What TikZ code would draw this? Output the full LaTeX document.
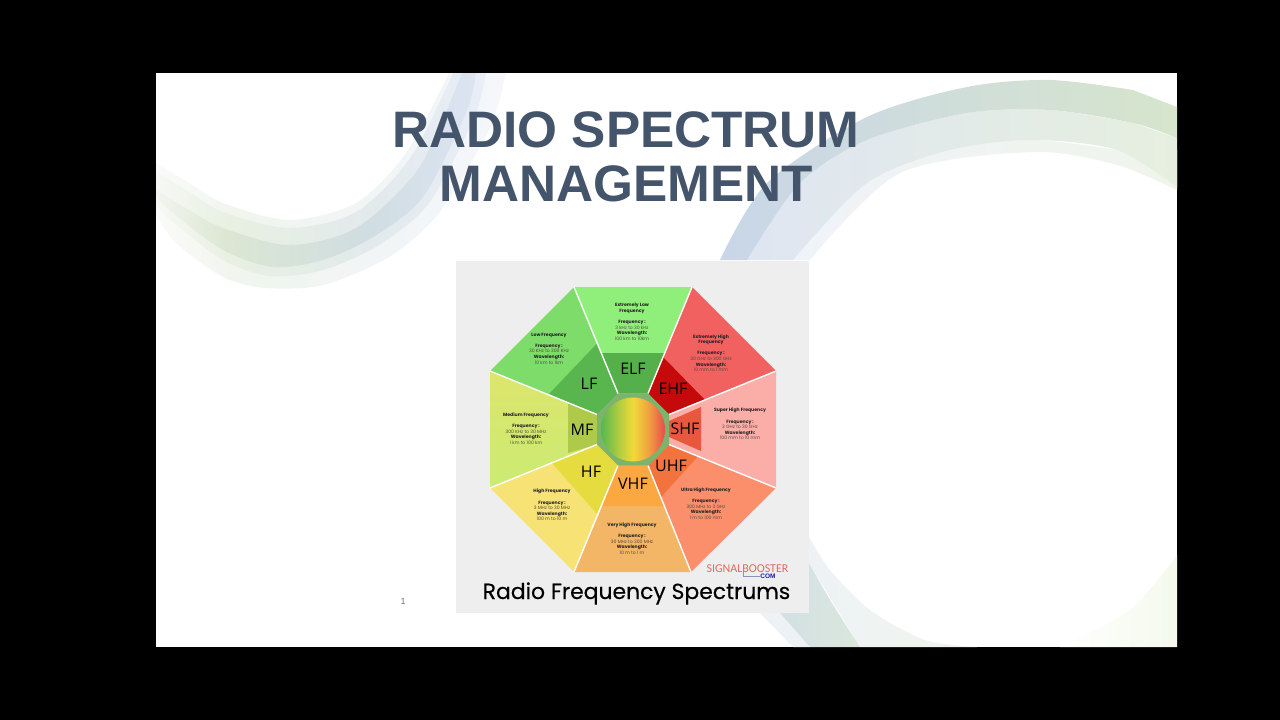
\documentclass[tikz,border=0pt]{standalone}
\usepackage{fontspec}
\usepackage{xcolor}
\setmainfont{Liberation Sans}
\newfontfamily\popfont{Poppins}
\newfontfamily\capfont[FakeBold=0.3]{Poppins}
\newfontfamily\bandfont{Open Sans}
\newfontfamily\logofont{Carlito}
\definecolor{titlecol}{HTML}{44546A}
\definecolor{imgbg}{HTML}{EEEEEF}
\definecolor{elfcol}{HTML}{90EE7B}
\definecolor{elfdark}{HTML}{55B04B}
\definecolor{lfcol}{HTML}{7EDD6A}
\definecolor{lfdark}{HTML}{59B54D}
\definecolor{mftop}{HTML}{DDE56C}
\definecolor{mfbot}{HTML}{CBEB72}
\definecolor{mfdark}{HTML}{AFC94A}
\definecolor{hfcol}{HTML}{F6E275}
\definecolor{hfdark}{HTML}{E5DC3F}
\definecolor{vhfcol}{HTML}{F3B566}
\definecolor{vhfdark}{HTML}{FBA843}
\definecolor{uhfcol}{HTML}{FB8E6B}
\definecolor{uhfdark}{HTML}{F2733D}
\definecolor{shfcol}{HTML}{FBAEA8}
\definecolor{shfdark}{HTML}{E9573F}
\definecolor{ehfcol}{HTML}{F0615F}
\definecolor{ehfdark}{HTML}{C40A0A}
\definecolor{hubcol}{HTML}{7DB36C}
\definecolor{logored}{HTML}{E06A62}
\definecolor{logoblue}{HTML}{1A1AA0}
\definecolor{logoline}{HTML}{8A94B8}
\definecolor{headtxt}{HTML}{222222}
\definecolor{valtxt}{HTML}{5A4A40}
\definecolor{hgreen}{HTML}{55B94E}
\definecolor{hlime}{HTML}{A5C943}
\definecolor{hyellow}{HTML}{F0DA38}
\definecolor{horange}{HTML}{F0A240}
\definecolor{hred}{HTML}{E84C4C}
\pgfdeclarehorizontalshading{hubshading}{100bp}{color(0bp)=(hgreen); color(25bp)=(hgreen); color(37bp)=(hlime); color(50bp)=(hyellow); color(62bp)=(horange); color(75bp)=(hred); color(100bp)=(hred)}
\definecolor{sgA}{HTML}{FAFBF9}
\definecolor{sgB}{HTML}{F1F5EE}
\definecolor{sgC}{HTML}{F2F5F6}
\definecolor{sgD}{HTML}{F5F7FB}
\definecolor{smA}{HTML}{F6F8F4}
\definecolor{smB}{HTML}{E8F0E2}
\definecolor{smC}{HTML}{E2EAEC}
\definecolor{smD}{HTML}{E9EEF7}
\definecolor{sdA}{HTML}{F2F5EF}
\definecolor{sdB}{HTML}{DBE7D2}
\definecolor{sdC}{HTML}{D0DDE2}
\definecolor{sdD}{HTML}{DCE4F2}
\pgfdeclarehorizontalshading{swfaint}{100bp}{color(0bp)=(sgA); color(25bp)=(sgA); color(36bp)=(sgB); color(58bp)=(sgC); color(75bp)=(sgD); color(100bp)=(sgD)}
\pgfdeclarehorizontalshading{swmid}{100bp}{color(0bp)=(smA); color(25bp)=(smA); color(36bp)=(smB); color(58bp)=(smC); color(75bp)=(smD); color(100bp)=(smD)}
\pgfdeclarehorizontalshading{swdark}{100bp}{color(0bp)=(sdA); color(25bp)=(sdA); color(36bp)=(sdB); color(58bp)=(sdC); color(75bp)=(sdD); color(100bp)=(sdD)}
\definecolor{adL}{HTML}{C9D6E8}
\definecolor{adM}{HTML}{CEDFDF}
\definecolor{adR}{HTML}{D6E5CC}
\definecolor{alL}{HTML}{DFE6F2}
\definecolor{alM}{HTML}{E3EBEC}
\definecolor{alR}{HTML}{E6EFDF}
\definecolor{afL}{HTML}{F0F3F8}
\definecolor{afR}{HTML}{F0F4EC}
\definecolor{bdL}{HTML}{D3E0E4}
\definecolor{bdR}{HTML}{DAE7DC}
\definecolor{blL}{HTML}{EEF2F5}
\definecolor{blR}{HTML}{F0F5EE}
\definecolor{cgR}{HTML}{F4F9EC}
\tikzset{
  bandlbl/.style={font=\bandfont\fontsize{16}{16}\selectfont, text=black, inner sep=0pt},
  bandtxt/.style={font=\popfont\fontsize{4.6}{5.6}\selectfont, align=center, inner sep=0pt},
  sepline/.style={draw=white, line width=1.4pt},
  titlelbl/.style={anchor=base, font=\bfseries\fontsize{51.3}{51.3}\selectfont, text=titlecol, inner sep=0pt},
}
\newcommand{\bandinfo}[3]{\textcolor{headtxt}{\textbf{#1}}\\[5.6pt]\textcolor{headtxt}{\textbf{Frequency :}}\\\textcolor{valtxt}{#2}\\\textcolor{headtxt}{\textbf{Wavelength:}}\\\textcolor{valtxt}{#3}}
\begin{document}
\begin{tikzpicture}[x=1pt,y=-1pt]
  \useasboundingbox (0,0) rectangle (1280,720);
  \fill[black] (0,0) rectangle (1280,720);
  \fill[white] (156,73) rectangle (1177,647);

  \begin{scope}
    \clip (156,73) rectangle (1177,647);
    \shade[shading=swfaint] plot[smooth] coordinates {(156,163) (189,183) (223,203) (289,220) (356,203) (406,153) (449,73)}
      -- plot[smooth] coordinates {(506,73) (489,130) (439,213) (389,257) (323,285) (266,288) (223,277) (176,243) (156,215)} -- cycle;
    \shade[shading=swmid] plot[smooth] coordinates {(156,172) (189,192) (223,212) (289,228) (356,212) (411,157) (453,73)}
      -- plot[smooth] coordinates {(486,73) (474,118) (429,203) (379,245) (323,270) (270,276) (223,260) (173,222) (156,205)} -- cycle;
    \shade[shading=swdark] plot[smooth] coordinates {(156,190) (189,210) (223,228) (289,245) (356,228) (419,168) (462,73)}
      -- plot[smooth] coordinates {(476,73) (466,113) (423,197) (373,237) (323,260) (273,267) (223,250) (173,213) (156,196)} -- cycle;

    \shade[left color=afL, right color=afR] plot[smooth] coordinates {(810,260) (900,173) (1033,152) (1117,165) (1177,190)}
      -- (1177,150) -- plot[smooth] coordinates {(1117,150) (1033,140) (950,150) (867,183) (793,260)} -- cycle;
    \shade[left color=alL, middle color=alM, right color=alR] plot[smooth] coordinates {(793,260) (867,183) (950,150) (1033,140) (1117,150) (1177,187)}
      -- (1177,138) -- plot[smooth] coordinates {(1133,123) (1050,110) (967,113) (867,140) (800,183) (747,260)} -- cycle;
    \shade[left color=adL, middle color=adM, right color=adR] plot[smooth] coordinates {(747,260) (800,183) (867,140) (967,113) (1050,110) (1133,123) (1177,138)}
      -- (1177,107) -- plot[smooth] coordinates {(1133,90) (1050,80) (967,87) (867,117) (767,183) (720,260)} -- cycle;

    \fill[blL] (760,613) -- (793,647) -- (810,647) -- (780,613) -- cycle;
    \shade[left color=blL, right color=blR] plot[smooth] coordinates {(809,537) (830,570) (870,610) (925,640) (977,647)}
      -- (860,647) -- (809,563) -- cycle;
    \shade[left color=bdL, right color=bdR] plot[smooth] coordinates {(809,563) (830,600) (860,647)}
      -- (810,647) -- (795,630) -- (780,613) -- (809,613) -- cycle;
    \shade[left color=white, right color=cgR] plot[smooth] coordinates {(1177,555) (1130,610) (1060,647)}
      -- (1177,647) -- cycle;
  \end{scope}

  \node[titlelbl] at (626,147) (title_a) {RADIO SPECTRUM};
  \node[titlelbl] at (626,201) (title_b) {MANAGEMENT};
  \node[font=\fontsize{9}{9}\selectfont, text=black!55, inner sep=0pt] at (403,601) (page_no) {1};

  \fill[imgbg] (456,261) rectangle (809,613);

  \coordinate (o1) at (574,287);
  \coordinate (o2) at (692,287);
  \coordinate (o3) at (776,371);
  \coordinate (o4) at (776,488);
  \coordinate (o5) at (691,572);
  \coordinate (o6) at (574,572);
  \coordinate (o7) at (490,488);
  \coordinate (o8) at (490,371);
  \coordinate (i1) at (618,393.5);
  \coordinate (i2) at (648,393.5);
  \coordinate (i3) at (669,414.5);
  \coordinate (i4) at (669,444.5);
  \coordinate (i5) at (648,465.5);
  \coordinate (i6) at (618,465.5);
  \coordinate (i7) at (597,444.5);
  \coordinate (i8) at (597,414.5);

  \fill[elfcol] (o1) -- (o2) -- (i2) -- (i1) -- cycle;
  \fill[ehfcol] (o2) -- (o3) -- (i3) -- (i2) -- cycle;
  \fill[shfcol] (o3) -- (o4) -- (i4) -- (i3) -- cycle;
  \fill[uhfcol] (o4) -- (o5) -- (i5) -- (i4) -- cycle;
  \fill[vhfcol] (o5) -- (o6) -- (i6) -- (i5) -- cycle;
  \fill[hfcol] (o6) -- (o7) -- (i7) -- (i6) -- cycle;
  \shade[top color=mftop, bottom color=mfbot] (o7) -- (o8) -- (i8) -- (i7) -- cycle;
  \fill[lfcol] (o8) -- (o1) -- (i1) -- (i8) -- cycle;

  \fill[elfdark] (601.3,353) -- (664.7,353) -- (i2) -- (i1) -- cycle;
  \fill[ehfdark] (663,357) -- (705,400) -- (i3) -- (i2) -- cycle;
  \fill[shfdark] (669,421) -- (701,407) -- (701,451) -- (669,437) -- cycle;
  \fill[uhfdark] (698,456.3) -- (661,497) -- (i5) -- (i4) -- cycle;
  \fill[vhfdark] (665,506) -- (601,506) -- (i6) -- (i5) -- cycle;
  \fill[hfdark] (597,514) -- (552,463) -- (i7) -- (i6) -- cycle;
  \fill[mfdark] (568,403) -- (i8) -- (i7) -- (568,453) -- cycle;
  \fill[lfdark] (549,394) -- (597.5,343) -- (i1) -- (i8) -- cycle;

  \draw[sepline] (o1) -- (i1);
  \draw[sepline] (o2) -- (i2);
  \draw[sepline] (o3) -- (i3);
  \draw[sepline] (o4) -- (i4);
  \draw[sepline] (o5) -- (i5);
  \draw[sepline] (o6) -- (i6);
  \draw[sepline] (o7) -- (i7);
  \draw[sepline] (o8) -- (i8);

  \fill[hubcol] (i1) -- (i2) -- (i3) -- (i4) -- (i5) -- (i6) -- (i7) -- (i8) -- cycle;
  \shade[shading=hubshading] (633,429.5) circle (32);

  \node[bandlbl] at (633,369) (elf_lbl) {ELF};
  \node[bandlbl] at (589,384) (lf_lbl) {LF};
  \node[bandlbl] at (582,430) (mf_lbl) {MF};
  \node[bandlbl] at (591,472) (hf_lbl) {HF};
  \node[bandlbl] at (633,484) (vhf_lbl) {VHF};
  \node[bandlbl] at (671,466) (uhf_lbl) {UHF};
  \node[bandlbl] at (685,429) (shf_lbl) {SHF};
  \node[bandlbl] at (673,389) (ehf_lbl) {EHF};

  \node[bandtxt] at (632,322) (elf_txt) {\textcolor{headtxt}{\textbf{Extremely Low}}\\\bandinfo{Frequency}{3 kHz to 30 kHz}{100 km to 10km}};
  \node[bandtxt] at (549,348.5) (lf_txt) {\bandinfo{Low Frequency}{30 KHz to 300 KHz}{10 km to 1km}};
  \node[bandtxt] at (526,428.5) (mf_txt) {\bandinfo{Medium Frequency}{300 KHz to 30 MHz}{1 km to 100 km}};
  \node[bandtxt] at (552,505) (hf_txt) {\bandinfo{High Frequency}{3 MHz to 30 MHz}{100 m to 10 m}};
  \node[bandtxt] at (632,538.5) (vhf_txt) {\bandinfo{Very High Frequency}{30 MHz to 300 MHz}{10 m to 1 m}};
  \node[bandtxt] at (706,503.5) (uhf_txt) {\bandinfo{Ultra High Frequency}{300 MHz to 3 GHz}{1 m to 100 mm}};
  \node[bandtxt] at (740,424) (shf_txt) {\bandinfo{Super High Frequency}{3 GHz to 30 GHz}{100 mm to 10 mm}};
  \node[bandtxt] at (711,353) (ehf_txt) {\textcolor{headtxt}{\textbf{Extremely High}}\\\bandinfo{Frequency}{30 GHz to 300 GHz}{10 mm to 1 mm}};

  \node[font=\logofont\fontsize{12}{12}\selectfont, text=logored, inner sep=0pt] at (747.5,568.5) (logo_lbl) {SIGNALBOOSTER};
  \node[font=\bfseries\fontsize{6.5}{6.5}\selectfont, text=logoblue, inner sep=0pt] at (768,576.5) (com_lbl) {COM};
  \coordinate (logo_tick) at (743,572);
  \draw[logoline, line width=0.5pt] (logo_tick) |- (com_lbl.west);

  \node[anchor=base, font=\capfont\fontsize{21.9}{21.9}\selectfont, text=black, inner sep=0pt] at (636.5,599) (caption) {Radio Frequency Spectrums};
\end{tikzpicture}
\end{document}
